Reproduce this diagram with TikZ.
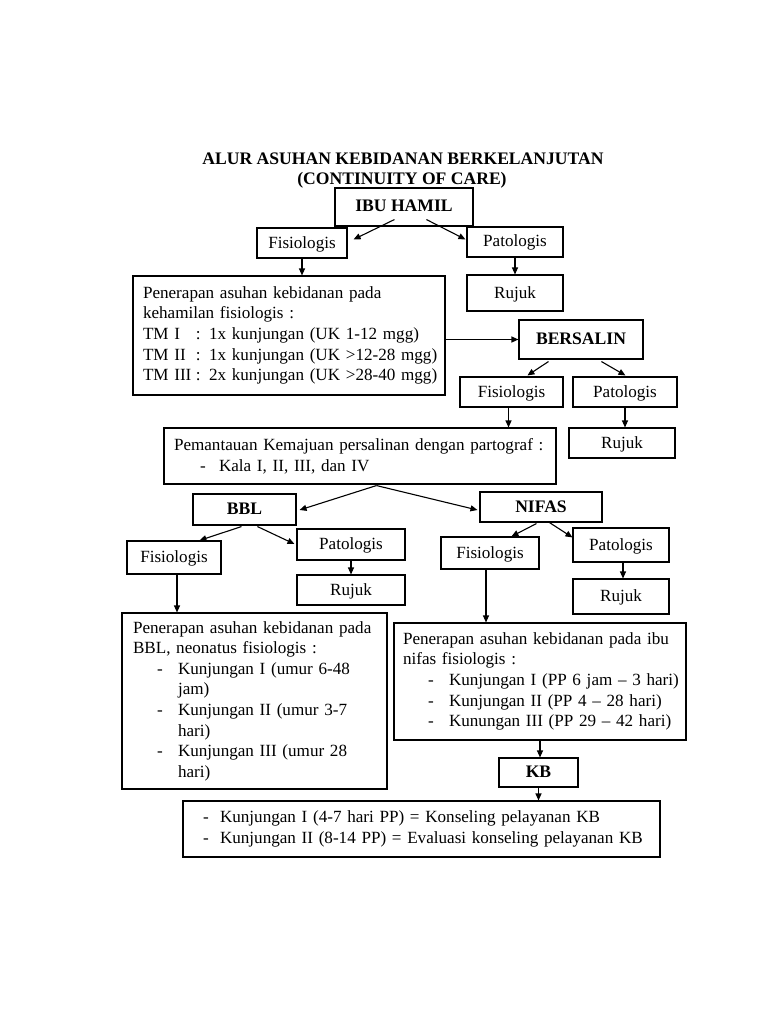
\documentclass[tikz,border=0pt]{standalone}
\usepackage{fontspec}
\setmainfont{Liberation Serif}
\usetikzlibrary{calc,arrows.meta}
\newcommand\fs{\fontsize{17.1pt}{20.6pt}\selectfont}
\newcommand\fsb{\fontsize{17.6pt}{21pt}\selectfont\bfseries}
\newcommand\dl[3]{\mbox{\hspace*{#1}\makebox[#2][l]{-}#3}}
\begin{document}
\begin{tikzpicture}[x=1pt,y=-1pt,
  box/.style={draw, line width=1.1pt, inner sep=0pt, font=\fs, text height=12pt, text depth=2pt},
  mbox/.style={draw, line width=1.1pt, inner ysep=0pt, font=\fs, align=left},
  arr/.style={-{Triangle[length=7pt,width=6pt]}, line width=1.1pt},
  ttl/.style={font=\fsb, anchor=base, inner sep=0pt}]
\fill[white] (0,0) rectangle (768,1024);
\useasboundingbox (0,0) rectangle (768,1024);

\node[ttl] (t1) at (403,165) {ALUR ASUHAN KEBIDANAN BERKELANJUTAN};
\node[ttl] (t2) at (402,185) {(CONTINUITY OF CARE)};

\node[box, font=\fsb, minimum width=138pt, minimum height=38pt] (ibu) at (404,207) {IBU HAMIL};
\node[box, minimum width=90pt, minimum height=30pt] (fis1) at (302,243) {Fisiologis};
\node[box, minimum width=96pt, minimum height=30pt] (pat1) at (515,242) {Patologis};
\node[box, minimum width=96pt, minimum height=36pt] (rujuk1) at (515,293) {Rujuk};
\node[mbox, text width=292pt, inner xsep=10pt, minimum width=312pt, minimum height=119pt] (pen1) at (289,335.5)
 {\mbox{Penerapan asuhan kebidanan pada}\\
  \mbox{kehamilan fisiologis :}\\
  \mbox{\makebox[52.8pt][l]{TM I}: 1x kunjungan (UK 1-12 mgg)}\\
  \mbox{\makebox[52.8pt][l]{TM II}: 1x kunjungan (UK >12-28 mgg)}\\
  \mbox{\makebox[52.8pt][l]{TM III}: 2x kunjungan (UK >28-40 mgg)}};

\node[box, font=\fsb, minimum width=124pt, minimum height=39pt] (bers) at (581,339.5) {BERSALIN};
\node[box, minimum width=103pt, minimum height=30pt] (fis2) at (511.5,392) {Fisiologis};
\node[box, minimum width=104pt, minimum height=30pt] (pat2) at (625,392) {Patologis};
\node[box, minimum width=106pt, minimum height=30pt] (rujuk2) at (622,443) {Rujuk};
\node[mbox, text width=372pt, inner xsep=10pt, minimum width=392pt, minimum height=56pt] (pem) at (360,456)
 {\mbox{Pemantauan Kemajuan persalinan dengan partograf :}\\
  \dl{26pt}{19pt}{Kala I, II, III, dan IV}};

\node[box, font=\fsb, minimum width=103pt, minimum height=31pt] (bbl) at (244.5,509.5) {BBL};
\node[box, font=\fsb, minimum width=122pt, minimum height=30pt] (nifas) at (541,507) {NIFAS};
\node[box, minimum width=94pt, minimum height=33pt] (fis3) at (174,557.5) {Fisiologis};
\node[box, minimum width=108pt, minimum height=31pt] (pat3) at (351,544.5) {Patologis};
\node[box, minimum width=108pt, minimum height=30pt] (rujuk3) at (351,590) {Rujuk};
\node[box, minimum width=98pt, minimum height=32pt] (fis4) at (490,553) {Fisiologis};
\node[box, minimum width=96pt, minimum height=34pt] (pat4) at (621,545) {Patologis};
\node[box, minimum width=96pt, minimum height=35pt] (rujuk4) at (621,596.5) {Rujuk};

\node[mbox, text width=243pt, inner xsep=11pt, minimum width=265pt, minimum height=176pt] (penbbl) at (254.5,701)
 {\mbox{Penerapan asuhan kebidanan pada}\\
  \mbox{BBL, neonatus fisiologis :}\\
  \dl{24pt}{21pt}{Kunjungan I (umur 6-48}\\
  \mbox{\hspace*{45pt}jam)}\\
  \dl{24pt}{21pt}{Kunjungan II (umur 3-7}\\
  \mbox{\hspace*{45pt}hari)}\\
  \dl{24pt}{21pt}{Kunjungan III (umur 28}\\
  \mbox{\hspace*{45pt}hari)}};

\node[mbox, text width=274pt, inner xsep=9pt, minimum width=292pt, minimum height=117pt] (pennif) at (540,681.5)
 {\mbox{Penerapan asuhan kebidanan pada ibu}\\
  \mbox{nifas fisiologis :}\\
  \dl{25pt}{21pt}{Kunjungan I (PP 6 jam -- 3 hari)}\\
  \dl{25pt}{21pt}{Kunjungan II (PP 4 -- 28 hari)}\\
  \dl{25pt}{21pt}{Kunungan III (PP 29 -- 42 hari)}};

\node[box, font=\fsb, minimum width=79pt, minimum height=29pt] (kb) at (538.5,772.5) {KB};
\node[mbox, text width=457pt, inner xsep=10pt, minimum width=477pt, minimum height=56pt] (last) at (421.5,829)
 {\dl{10pt}{17pt}{Kunjungan I (4-7 hari PP) = Konseling pelayanan KB}\\
  \dl{10pt}{17pt}{Kunjungan II (8-14 PP) = Evaluasi konseling pelayanan KB}};

% connectors
\draw[arr] ($(ibu.south west)+(60,-7)$) -- ($(fis1.north east)+(6,12)$);
\draw[arr] ($(ibu.south west)+(92,-7)$) -- ($(pat1.north west)+(-1,13)$);
\draw[arr] (fis1.south) -- (fis1.south |- pen1.north);
\draw[arr] (pat1.south) -- (rujuk1.north);
\draw[arr] (pen1.east |- bers.west) -- (bers.west);
\draw[arr] ($(bers.south west)+(30,2)$) -- ($(fis2.north west)+(68,-1)$);
\draw[arr] ($(bers.south west)+(83,2)$) -- ($(pat2.north west)+(53,-1)$);
\draw[arr] ([xshift=-3pt]fis2.south) -- ([xshift=-3pt]fis2.south |- pem.north);
\draw[arr] (pat2.south) -- (pat2.south |- rujuk2.north);
\draw[arr] ($(pem.south west)+(213,1)$) -- ($(bbl.east)+(3,0.5)$);
\draw[arr] ($(pem.south west)+(213,1)$) -- ($(nifas.west)+(-2,3)$);
\draw[arr] ($(bbl.south west)+(49,1)$) -- ($(fis3.north west)+(73,0)$);
\draw[arr] ($(bbl.south west)+(65,1)$) -- ($(pat3.west)+(-2,-0.5)$);
\draw[arr] (pat3.south) -- (rujuk3.north);
\draw[arr] ([xshift=3pt]fis3.south) -- ([xshift=3pt]fis3.south |- penbbl.north);
\draw[arr] ($(nifas.south west)+(57,1)$) -- ($(fis4.north west)+(71,0)$);
\draw[arr] ($(nifas.south west)+(70,0)$) -- ($(pat4.north west)+(0,10)$);
\draw[arr] ([xshift=2pt]pat4.south) -- ([xshift=2pt]rujuk4.north);
\draw[arr] ([xshift=-4pt]fis4.south) -- ([xshift=-4pt]fis4.south |- pennif.north);
\draw[arr] (pennif.south) -- (pennif.south |- kb.north);
\draw[arr] (kb.south) -- (kb.south |- last.north);
\end{tikzpicture}
\end{document}
